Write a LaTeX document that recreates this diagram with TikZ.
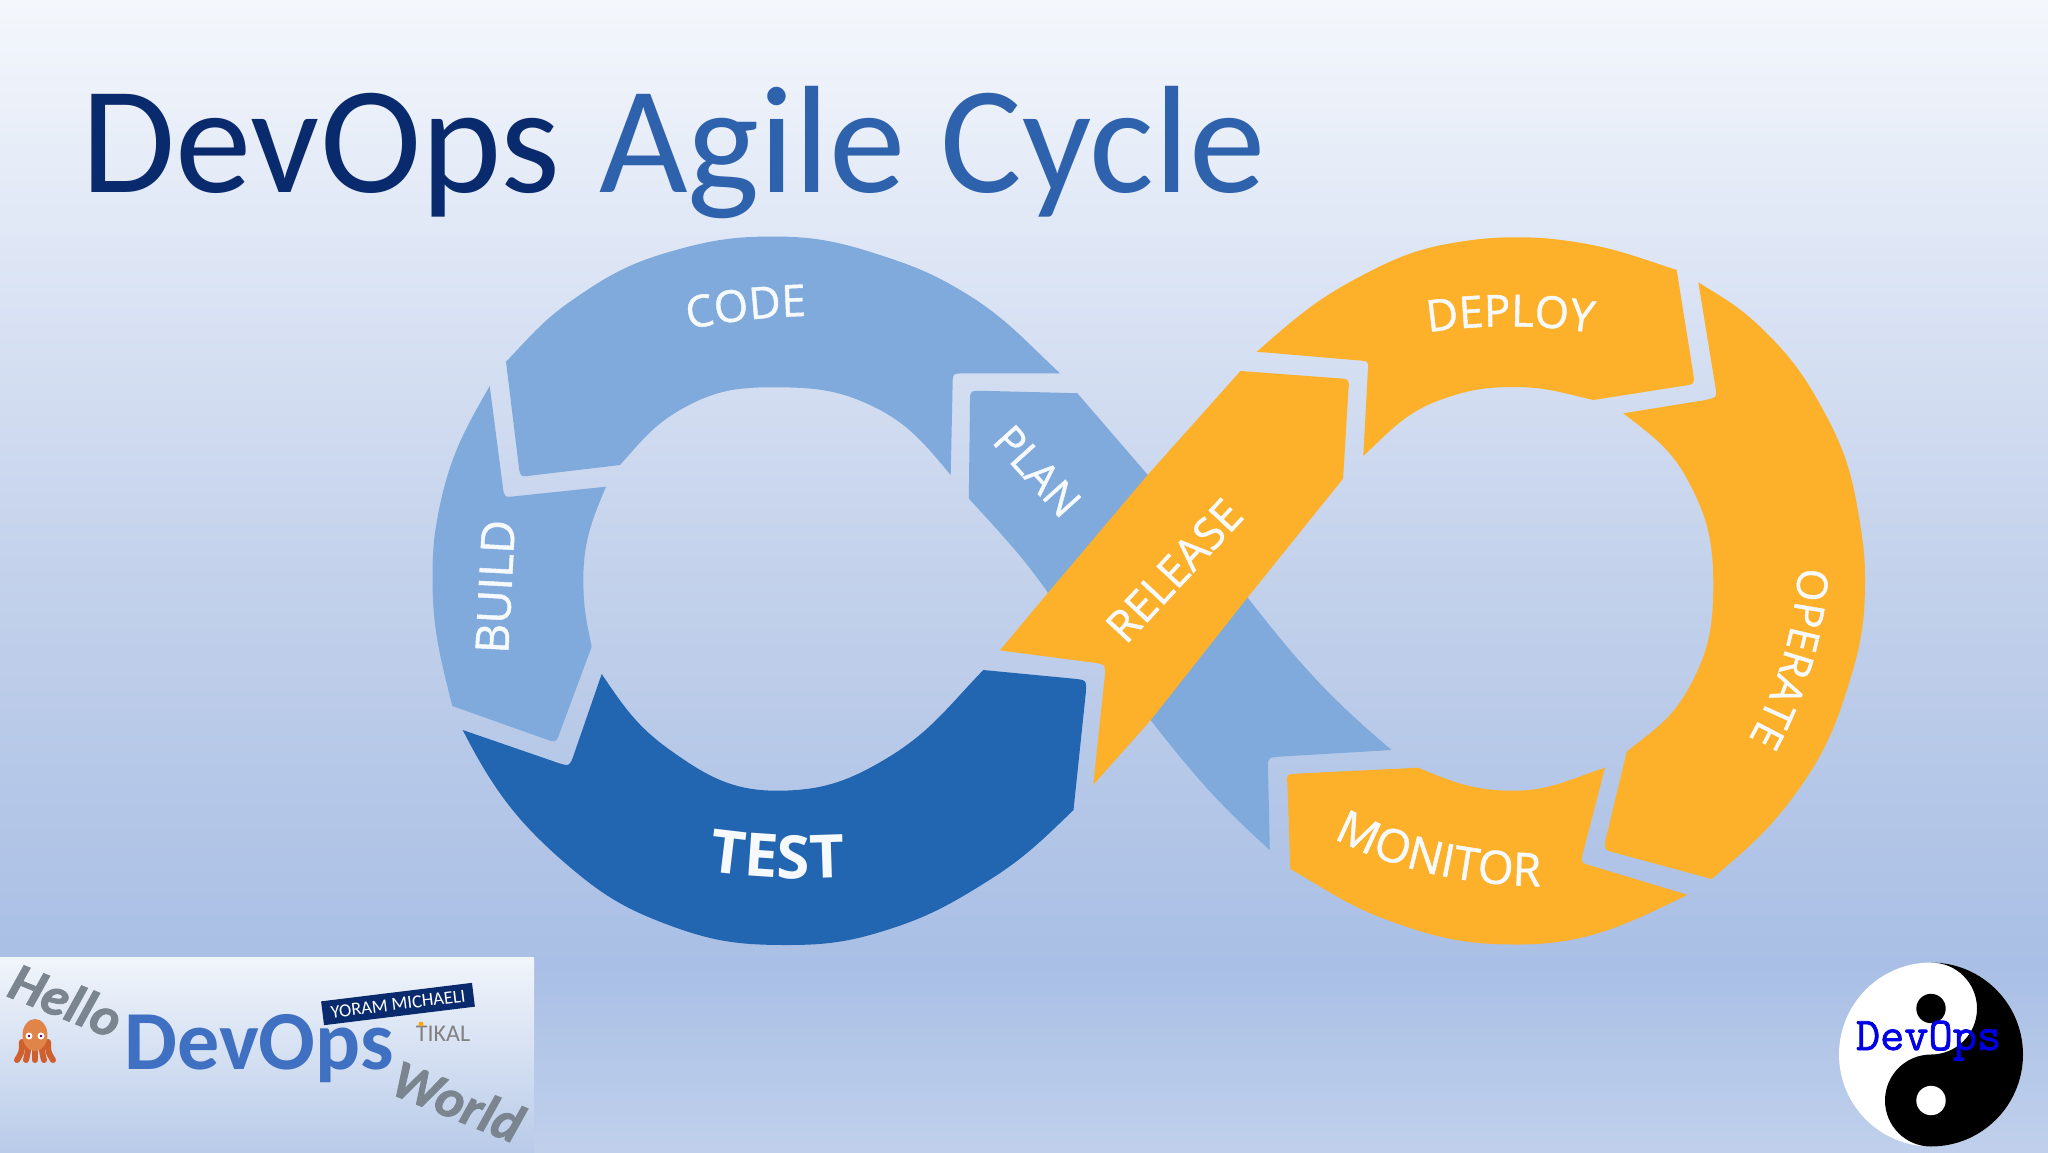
\documentclass[tikz,border=0pt]{standalone}
\usepackage{fontspec}
\setmainfont{Carlito}
\newfontfamily\lblfont[FakeBold=1]{Open Sans}
\newfontfamily\lblheavy{Open Sans}
\newfontfamily\heavyword[FakeBold=1.5]{Carlito}
\newfontfamily\yyfont[FakeBold=1.5]{Latin Modern Mono}
\usetikzlibrary{decorations.text}
\definecolor{ltblue}{HTML}{7FAADB}
\definecolor{dkblue}{HTML}{2265B1}
\definecolor{orng}{HTML}{FDB02A}
\definecolor{navy}{HTML}{0A2A6E}
\definecolor{midblue}{HTML}{2E62AD}
\definecolor{logoblue}{HTML}{3F70C1}
\definecolor{greytxt}{HTML}{7A858F}
\definecolor{labelwhite}{HTML}{F7FAFD}
\definecolor{logotop}{HTML}{F1F5FB}
\definecolor{logobot}{HTML}{B9CBE9}
\definecolor{octohead}{HTML}{E0854A}
\definecolor{octoarm}{HTML}{CF5F2C}
\pgfdeclareverticalshading{slidebg}{100bp}{
 rgb(0bp)=(0.753,0.816,0.925);
 rgb(25bp)=(0.753,0.816,0.925);
 rgb(33bp)=(0.663,0.749,0.898);
 rgb(50bp)=(0.765,0.820,0.922);
 rgb(62bp)=(0.855,0.890,0.957);
 rgb(75bp)=(0.957,0.969,0.988);
 rgb(100bp)=(0.957,0.969,0.988)}
\tikzset{
 zc/.style={xshift=400pt,yshift=-220pt,x=0.4847pt,y=-0.4719pt},
 zd/.style={xshift=960pt,yshift=-220pt,x=0.5867pt,y=-0.4719pt},
 ptext/.style={decorate,decoration={text along path,text align=center,text={#1}}},
 lbl/.style={text=labelwhite,font=\lblfont\fontsize{#1}{#1}\selectfont,inner sep=0pt},
 greyword/.style={text=greytxt,font=\heavyword\bfseries\itshape\fontsize{54}{54}\selectfont,inner sep=0pt},
}
\newcommand{\lf}[1]{\lblfont\fontsize{#1}{#1}\selectfont\color{labelwhite}}
\newcommand{\lfb}[1]{\lblheavy\bfseries\fontsize{#1}{#1}\selectfont\color{labelwhite}}
\begin{document}
\begin{tikzpicture}[x=1pt,y=-1pt]
\useasboundingbox (0,0) rectangle (2048,1152);
\shade[shading=slidebg] (0,0) rectangle (2048,1152);

% title
\node[anchor=base west,inner sep=0pt,font=\fontsize{153}{153}\selectfont,text=navy] (titlea) at (81,192) {DevOps};
\node[anchor=base west,inner sep=0pt,font=\fontsize{153}{153}\selectfont,text=midblue] (titleb) at (599,192) {Agile Cycle};

% PLAN band (passes under RELEASE)
\fill[ltblue] (970,401.7) .. controls (970,390.8) .. (982.3,390.8) -- (1077.3,393.2) -- (1147.7,474.8) -- (1247.5,597.5)
 to[out=-52,in=140] (1391.7,750)
 -- (1281.5,756.5) .. controls (1268,757.5) .. (1268,767.4) -- (1269.8,850)
 to[out=138,in=-52] (1150.7,720.2)
 -- (1048,592.8) to[out=125,in=-48] (968.8,498.4) -- cycle;

% CODE
\fill[ltblue] (506,361.7) to[out=46,in=215] (570,301.7) to[out=35,in=196] (670,251.7) to[out=16,in=180] (773,236.5) to[out=0,in=162] (880,255) to[out=-18,in=149] (963,291.7) to[out=-31,in=137] (1060,373.3)
 -- (964.7,373.4) .. controls (952.6,373.4) .. (952.6,385.2) -- (950.7,475)
 to[out=130,in=335] (870,405) to[out=155,in=0] (770,387.3) to[out=180,in=30] (680,410) to[out=210,in=48] (620,465)
 -- (533.3,475.3) .. controls (520.2,477.2) .. (518.8,466.3) -- cycle;
% BUILD
\fill[ltblue] (489.7,386.1) to[out=240,in=78] (440,505) to[out=258,in=90] (432.5,578) to[out=270,in=104] (452.3,706)
 -- (543,738.2) .. controls (556.1,742.9) .. (560,732) -- (591.7,646.7)
 to[out=102,in=270] (583.3,580) to[out=90,in=247] (606,486.7)
 -- (516.3,496.1) .. controls (504.2,497.5) .. (502.8,486.6) -- cycle;
% TEST
\fill[dkblue] (462.7,730) -- (557.5,762.7) .. controls (569.6,766.5) .. (573.5,755.6) -- (601.7,674)
 to[out=-56,in=144.5] (670,750) to[out=-35.5,in=180] (776.7,790.7) to[out=0,in=211] (886.7,758.3) to[out=31,in=226] (983.3,670)
 -- (1073.7,678.7) .. controls (1086.4,680.1) .. (1085.9,691.9) -- (1073.5,810)
 to[out=224,in=32] (986.7,881.7) to[out=212,in=17.6] (886.7,930) to[out=197.6,in=0] (786.7,945) to[out=180,in=340] (673.3,926.7) to[out=160,in=320] (573.3,870) to[out=140,in=297] (462.7,730) -- cycle;

% RELEASE
\begin{scope}[zd]
\fill[orng] (478,320) -- (640,335) .. controls (664,337) .. (662,360) -- (653,548) -- (490,800) -- (325,1060) -- (227,1197) -- (247,965) .. controls (248,942) .. (228,938) -- (68,912) -- (150,790) -- (320,540) -- cycle;
\end{scope}
% DEPLOY
\fill[orng] (1256.7,351.7) -- (1356,360.2) .. controls (1368.9,361.1) .. (1367.8,371) -- (1363.3,456)
 to[out=43,in=200] (1440,400) to[out=20,in=180] (1515,387) to[out=0,in=167] (1593.3,400)
 -- (1681.6,386.1) .. controls (1694.5,384.2) .. (1693.4,374.8) -- (1676.7,270)
 to[out=162,in=351.5] (1573.3,241.7) to[out=171.5,in=0] (1516.7,237.3) to[out=180,in=9] (1456.7,242.3) to[out=189,in=28] (1356.7,278.3) to[out=208,in=41] (1256.7,351.7) -- cycle;
% OPERATE
\fill[orng] (1698.3,282.3) to[out=-32,in=136.3] (1760,326.7) to[out=-43.7,in=118] (1826.7,416.7) to[out=-62,in=99] (1860,523.3) to[out=-81,in=90] (1865,580) to[out=-90,in=73] (1850,680) to[out=-107,in=53.5] (1793.3,796.7) to[out=-126.5,in=41] (1711.7,879)
 -- (1617.1,853.3) .. controls (1604.2,850) .. (1605.4,840.6) -- (1626.7,751.7)
 to[out=39,in=240] (1686.7,691.7) to[out=60,in=270] (1713.3,585) to[out=90,in=299] (1686.7,478.3) to[out=119,in=322] (1623.3,413.3)
 -- (1704,400.3) .. controls (1716.9,397.4) .. (1715.7,388.9) -- cycle;
% MONITOR
\fill[orng] (1287.4,783.9) .. controls (1286.2,774.5) .. (1299.1,773.5) -- (1418.3,767.7)
 to[out=-23,in=180] (1513.3,790.7) to[out=0,in=198] (1605,767.7)
 -- (1583.1,852.3) .. controls (1580.7,862.7) .. (1590.7,865.6) -- (1687.5,894.8)
 to[out=206,in=0] (1517,944.5) to[out=180,in=340] (1390,921) to[out=160,in=330] (1290.3,868.9) -- cycle;

% stage labels
\begin{scope}[zc]
\path[ptext={|\lf{44}|CODE}] (570,238) .. controls (660,215) and (770,203) .. (865,203);
\path[ptext={|\lfb{60}|TEST}] (620,1378) .. controls (720,1395) and (840,1400) .. (935,1392);
\node[lbl=46,rotate=87] (buildlabel) at (197,777) {BUILD};
\node[lbl=42,rotate=-48] (planlabel) at (1315,532) {PLAN};
\end{scope}
\begin{scope}[zd]
\node[lbl=44,rotate=47] (releaselabel) at (365,743) {RELEASE};
\path[ptext={|\lf{44}|DEPLOY}] (760,246) .. controls (880,218) and (1000,218) .. (1115,248);
\path[ptext={|\lf{42}|OPERATE}] (1430,690) .. controls (1430,850) and (1395,1000) .. (1325,1140);
\path[ptext={|\lf{46}|MONITOR}] (610,1290) .. controls (700,1360) and (840,1415) .. (1020,1412);
\end{scope}

% logo bottom left
\shade[top color=logotop,bottom color=logobot] (0,957) rectangle (534,1152);
\node[greyword,rotate=-22] (hello) at (66,1000) {Hello};
\node[greyword,rotate=-22] (world) at (458,1101) {World};
\node[anchor=base west,inner sep=0pt,text=logoblue,font=\bfseries\fontsize{84}{84}\selectfont] (logodevops) at (124,1069) {DevOps};
\node[fill=navy,text=white,inner sep=0pt,minimum width=152pt,minimum height=24pt,rotate=7,font=\fontsize{18.5}{18.5}\selectfont] (yoram) at (398,1004) {YORAM MICHAELI};
\node[inner sep=0pt,text=gray,font=\fontsize{24}{24}\selectfont] (tikal) at (443,1034) {TIKAL};
\fill[orange!70!yellow] (421,1024) circle (2.5pt);
% octopus
\foreach \xa/\xb in {22/17,28/26,35/35,42/44,48/53}
 \draw[line width=6pt,line cap=round,color=octoarm] (\xa,1042) .. controls (\xa,1052) .. (\xb,1060);
\fill[octohead] (35,1035) ellipse (12.5pt and 16pt);
\fill[white] (29,1036) circle (3.5pt) (41,1036) circle (3.5pt);
\fill[violet!60!black] (29,1036) circle (1.4pt) (41,1036) circle (1.4pt);

% yin yang
\begin{scope}[shift={(1931,1054.5)},x=1pt,y=1pt]
\fill[white] (0,0) circle (92pt);
\fill[black] (0,92) arc (90:-90:92pt) arc (-90:-270:46pt) arc (-90:90:46pt) -- cycle;
\fill[black] (0,46) circle (14.7pt);
\fill[white] (0,-46) circle (14.7pt);
\end{scope}
\node[anchor=base,inner sep=0pt,text={rgb,255:red,0;green,0;blue,230},font=\yyfont\fontsize{47}{47}\selectfont] (yydevops) at (1928.5,1050) {DevOps};
\end{tikzpicture}
\end{document}
